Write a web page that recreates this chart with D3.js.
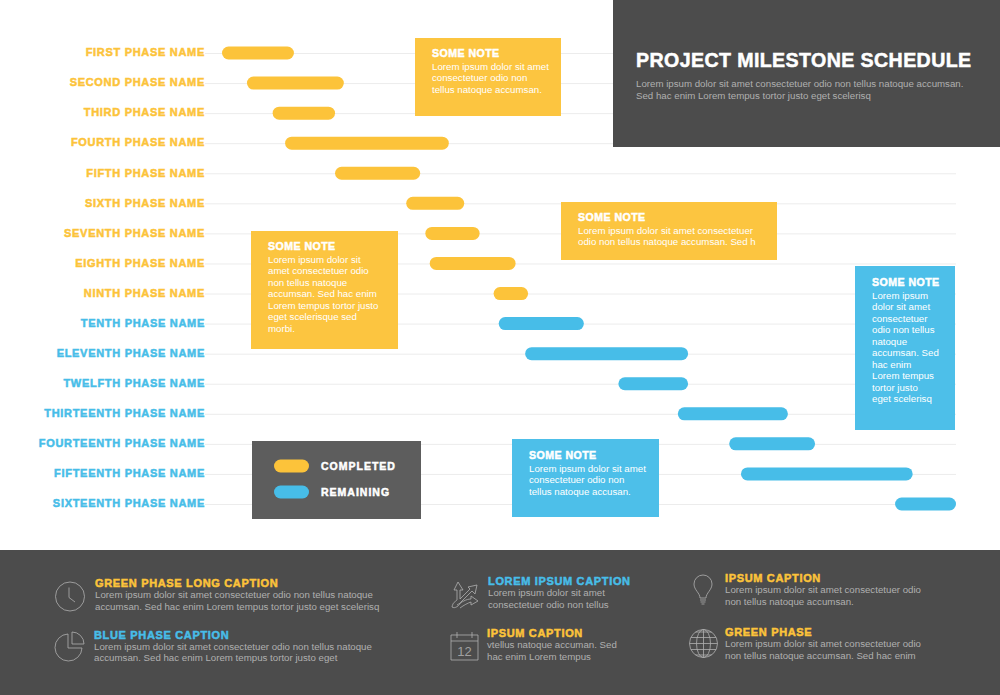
<!DOCTYPE html>
<html>
<head>
<meta charset="utf-8">
<script src="https://cdn.jsdelivr.net/npm/d3@7"></script>
<style>
  html, body { margin: 0; padding: 0; background: #fff; }
  svg { display: block; }
  text { font-family: "Liberation Sans", Arial, sans-serif; }
  .heavy { font-weight: 700; stroke-width: .5px; paint-order: stroke; }
</style>
</head>
<body>
<svg width="1000" height="695"></svg>
<script>
const yellow = "#fcc33a", blue = "#47bde8", dark = "#4c4c4c";
const bodySize = 9.7, bodyGrey = "#b0b0b0";

// Phases, in schedule order
const phases = ["FIRST", "SECOND", "THIRD", "FOURTH", "FIFTH", "SIXTH", "SEVENTH", "EIGHTH", "NINTH", "TENTH",
  "ELEVENTH", "TWELFTH", "THIRTEENTH", "FOURTEENTH", "FIFTEENTH", "SIXTEENTH"].map(d => d + " PHASE NAME");
const starts = [0, 3.4, 6.9, 8.6, 15.4, 25.1, 27.7, 28.3, 37, 37.7, 41.3, 54, 62.1, 69.1, 70.7, 91.7];
const ends = [9.8, 16.6, 15.4, 30.9, 27, 33, 35.1, 40, 41.7, 49.3, 63.5, 63.5, 77.1, 80.8, 94.1, 100];
const completedCount = 9;

const legendLabels = ["COMPLETED", "REMAINING"];

const noteLines = [
  ["Lorem ipsum dolor sit amet", "consectetuer odio non", "tellus natoque accumsan."],
  ["Lorem ipsum dolor sit", "amet consectetuer odio", "non tellus natoque", "accumsan. Sed hac enim", "Lorem tempus tortor justo", "eget scelerisque sed", "morbi."],
  ["Lorem ipsum dolor sit amet consectetuer", "odio non tellus natoque accumsan. Sed h"],
  ["Lorem ipsum", "dolor sit amet", "consectetuer", "odio non tellus", "natoque", "accumsan. Sed", "hac enim", "Lorem tempus", "tortor justo", "eget scelerisq"],
  ["Lorem ipsum dolor sit amet", "consectetuer odio non", "tellus natoque accusan."]
];

const captionTitles = ["GREEN PHASE LONG CAPTION", "BLUE PHASE CAPTION", "LOREM IPSUM CAPTION", "IPSUM CAPTION", "IPSUM CAPTION", "GREEN PHASE"];
const captionLines = [
  ["Lorem ipsum dolor sit amet consectetuer odio non tellus natoque", "accumsan. Sed hac enim Lorem tempus tortor justo eget scelerisq"],
  ["Lorem ipsum dolor sit amet consectetuer odio non tellus natoque", "accumsan. Sed hac enim Lorem tempus tortor justo eget"],
  ["Lorem ipsum dolor sit amet", "consectetuer odio non tellus"],
  ["vtellus natoque accuman. Sed", "hac enim Lorem tempus"],
  ["Lorem ipsum dolor sit amet consectetuer odio", "non tellus natoque accumsan."],
  ["Lorem ipsum dolor sit amet consectetuer odio", "non tellus natoque accumsan. Sed hac enim"]
];

const svg = d3.select("svg");

// Scales
const x = d3.scaleLinear().domain([0, 100]).range([222, 956]);
const y = d3.scalePoint().domain(phases).range([53, 504]);
const barHeight = 13;
const phaseColor = i => i < completedCount ? yellow : blue;

// Axis gives the labels and the pale row lines
const axis = svg.append("g")
  .attr("transform", "translate(205,0)")
  .call(d3.axisLeft(y).tickSize(-751).tickPadding(0));
axis.select(".domain").remove();
axis.selectAll("line").attr("stroke", "#ececec");
axis.selectAll("text")
  .attr("class", "heavy")
  .attr("dy", "0.25em")
  .attr("font-size", 11)
  .attr("letter-spacing", 0.7)
  .attr("fill", (d, i) => phaseColor(i))
  .attr("stroke", (d, i) => phaseColor(i));

// Phase bars
svg.append("g").selectAll("rect")
  .data(phases)
  .enter()
  .append("rect")
  .attr("x", (d, i) => x(starts[i]))
  .attr("y", d => y(d) - barHeight / 2)
  .attr("width", (d, i) => x(ends[i]) - x(starts[i]))
  .attr("height", barHeight)
  .attr("rx", 6.5)
  .attr("fill", (d, i) => phaseColor(i));

// Note boxes
const noteBoxes = [
  { x: 415, y: 38, w: 146, h: 78, color: yellow, tx: 432, ty: 53 },
  { x: 251, y: 231, w: 147, h: 118, color: yellow, tx: 268, ty: 246 },
  { x: 561, y: 202, w: 216, h: 58, color: yellow, tx: 578, ty: 217 },
  { x: 855, y: 266, w: 100, h: 164, color: blue, tx: 872, ty: 282 },
  { x: 512, y: 439, w: 147, h: 78, color: blue, tx: 529, ty: 455 }
];

noteBoxes.forEach((b, i) => {
  const g = svg.append("g");
  g.append("rect").attr("x", b.x).attr("y", b.y).attr("width", b.w).attr("height", b.h)
    .attr("fill", b.color).attr("fill-opacity", 0.97);
  g.append("text").attr("class", "heavy").attr("x", b.tx).attr("y", b.ty + 4)
    .attr("font-size", 10.6).attr("letter-spacing", 0.45)
    .attr("fill", "#fff").attr("stroke", "#fff").text("SOME NOTE");
  g.selectAll("text.line").data(noteLines[i]).enter().append("text")
    .attr("class", "line").attr("x", b.tx).attr("y", (d, k) => b.ty + 17 + k * 11.45)
    .attr("font-size", bodySize).attr("fill", "#fff").text(d => d);
});

// Legend
svg.append("rect").attr("x", 252).attr("y", 441).attr("width", 169).attr("height", 78)
  .attr("fill", "#5a5a5a").attr("fill-opacity", 0.98);
const legendY = d3.scalePoint().domain(legendLabels).range([466, 492]);
const legendColor = d3.scaleOrdinal().domain(legendLabels).range([yellow, blue]);
const legendRow = svg.append("g").selectAll("g").data(legendLabels).enter().append("g")
  .attr("transform", d => `translate(0,${legendY(d)})`);
legendRow.append("rect").attr("x", 274).attr("y", -6.5).attr("width", 35).attr("height", 13)
  .attr("rx", 6.5).attr("fill", d => legendColor(d));
legendRow.append("text").attr("class", "heavy").attr("x", 321).attr("y", 3.5)
  .attr("font-size", 10.5).attr("letter-spacing", 1)
  .attr("fill", "#fff").attr("stroke", "#fff").text(d => d);

// Header panel
svg.append("rect").attr("x", 613).attr("y", 0).attr("width", 387).attr("height", 147).attr("fill", dark);
svg.append("text").attr("class", "heavy").attr("x", 636).attr("y", 67)
  .attr("font-size", 19.6).attr("letter-spacing", 0.4).attr("stroke-width", 0.8)
  .attr("fill", "#fff").attr("stroke", "#fff").text("PROJECT MILESTONE SCHEDULE");
["Lorem ipsum dolor sit amet consectetuer odio non tellus natoque accumsan.",
  "Sed hac enim Lorem tempus tortor justo eget scelerisq"].forEach((t, i) => {
  svg.append("text").attr("x", 636).attr("y", 87 + i * 11.5)
    .attr("font-size", bodySize).attr("fill", bodyGrey).text(t);
});

// Footer panel
svg.append("rect").attr("x", 0).attr("y", 550).attr("width", 1000).attr("height", 145).attr("fill", dark);

const captionPlaces = [
  { x: 95, y: 583, color: yellow }, { x: 94, y: 634.5, color: blue },
  { x: 488, y: 581, color: blue }, { x: 487, y: 633, color: yellow },
  { x: 725, y: 578, color: yellow }, { x: 725, y: 632, color: yellow }
];
captionPlaces.forEach((c, i) => {
  svg.append("text").attr("class", "heavy").attr("x", c.x).attr("y", c.y + 4)
    .attr("font-size", 11).attr("letter-spacing", 0.66)
    .attr("fill", c.color).attr("stroke", c.color).text(captionTitles[i]);
  captionLines[i].forEach((t, k) => {
    svg.append("text").attr("x", c.x).attr("y", c.y + 15 + k * 11.5)
      .attr("font-size", bodySize).attr("fill", bodyGrey).text(t);
  });
});

// Line icons
const icons = svg.append("g").attr("fill", "none").attr("stroke", "#b0b0b0").attr("stroke-width", 0.8);

const clock = icons.append("g").attr("transform", "translate(70,596.5)");
clock.append("circle").attr("r", 14.5);
clock.append("path").attr("d", "M-1-9V1L5 5.5");

const pie = icons.append("g").attr("transform", "translate(69,646)");
pie.append("path").attr("d", "M-1-12A13.5 13.5 0 1 0 13 2H-1Z");
pie.append("path").attr("d", "M3-14A12 12 0 0 1 15-2H3Z");

const arrows = icons.append("g").attr("transform", "translate(451,581)");
arrows.append("path").attr("d", "M1 26C4 28 8 25 10 21L21 10L24 13L26 4L17 6L19 8L9 18V9H12L7 1L3 9H6V19C4 21 2 21 1 26ZM9 27C13 24 17 22 20 21V24L27 20L20 15V18C15 18 11 21 6 24");

const bulb = icons.append("g").attr("transform", "translate(703,588)");
bulb.append("path").attr("d", "M-3 10C-3 5-9 2-9-4A9 9 0 0 1 9-4C9 2 3 5 3 10Z");
bulb.append("path").attr("d", "M-3 12H3M-2.5 14H2.5M-1.5 16H1.5");

const calendar = icons.append("g").attr("transform", "translate(451,632)");
calendar.append("path").attr("d", "M0 3H27V28H0ZM0 9H27M6 0V6M21 0V6");
svg.append("text").attr("x", 464.5).attr("y", 656).attr("text-anchor", "middle")
  .attr("font-size", 13).attr("font-weight", 300).attr("fill", "#a0a0a0").text("12");

const globe = icons.append("g").attr("transform", "translate(703.5,643.5)");
globe.append("circle").attr("r", 14);
globe.append("ellipse").attr("rx", 7).attr("ry", 14);
globe.append("path").attr("d", "M0-14V14M-14 0H14M-12.5-6H12.5M-12.5 6H12.5M-8-11.5H8M-8 11.5H8");
</script>
</body>
</html>
